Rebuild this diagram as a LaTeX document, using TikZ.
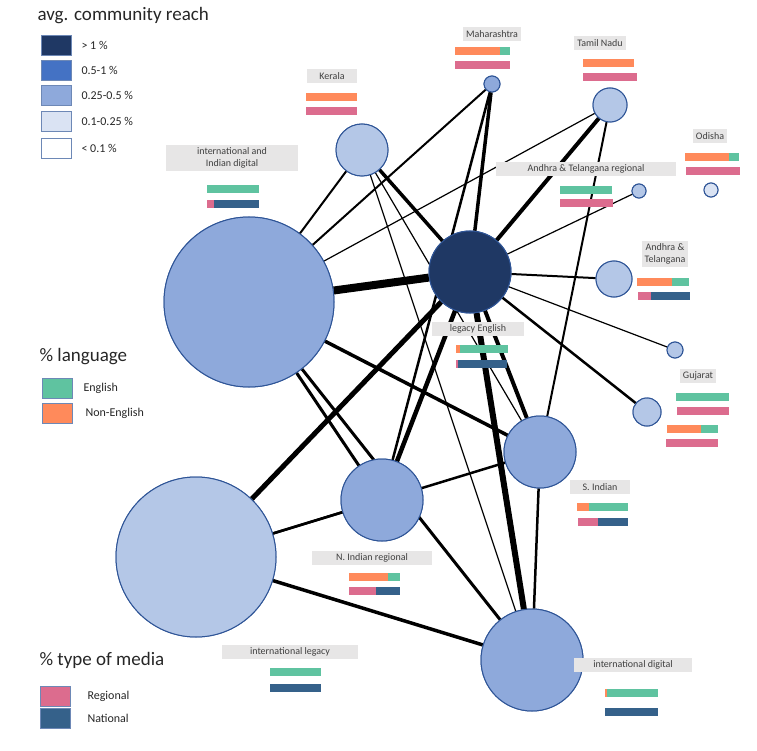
\documentclass[tikz,border=0pt]{standalone}
\usepackage{fontspec}
\setmainfont{Carlito}
\definecolor{c1}{HTML}{1F3864}
\definecolor{c2}{HTML}{4472C4}
\definecolor{c3}{HTML}{8EA9DB}
\definecolor{c4}{HTML}{B4C7E7}
\definecolor{c5}{HTML}{DAE3F3}
\definecolor{edgeb}{HTML}{2F5597}
\definecolor{lbl}{HTML}{E7E6E6}
\definecolor{eng}{HTML}{5FC3A0}
\definecolor{noneng}{HTML}{FF8A5B}
\definecolor{reg}{HTML}{DC6C8E}
\definecolor{nat}{HTML}{35618A}
\newcommand{\bbar}[4]{\fill[#4] (#1,#3-4) rectangle (#2,#3+4);}
\begin{document}
\begin{tikzpicture}[x=1pt,y=-1pt,
  comm/.style={circle,draw=edgeb,line width=1pt,inner sep=0pt},
  lab/.style={fill=lbl,text=black!75,font=\fontsize{10}{12}\selectfont,inner sep=3pt,align=center},
  leg/.style={anchor=west,font=\fontsize{12}{14}\selectfont,text=black!85},
  ttl/.style={anchor=west,font=\fontsize{19}{22}\selectfont,text=black!85},
  sq/.style={draw=edgeb!70,line width=0.8pt}]
\useasboundingbox (0,0) rectangle (757,751);
% nodes
\node[comm,fill=c3,minimum size=170pt] (ii) at (249,302) {};
\node[comm,fill=c4,minimum size=160pt] (il) at (196,557) {};
\node[comm,fill=c3,minimum size=82pt] (ni) at (382,500) {};
\node[comm,fill=c3,minimum size=72pt] (si) at (540,452) {};
\node[comm,fill=c3,minimum size=102pt] (id) at (532,660) {};
\node[comm,fill=c4,minimum size=52pt] (ke) at (362,150) {};
\node[comm,fill=c3,minimum size=16pt] (ma) at (492,84) {};
\node[comm,fill=c4,minimum size=34pt] (tn) at (610,105) {};
\node[comm,fill=c4,minimum size=14pt] (atr) at (639,191) {};
\node[comm,fill=c5,minimum size=14pt] (od) at (711,190) {};
\node[comm,fill=c4,minimum size=36pt] (at) at (614,279) {};
\node[comm,fill=c4,minimum size=16pt] (un) at (675,350) {};
\node[comm,fill=c4,minimum size=28pt] (gu) at (647,412) {};
\node[comm,fill=c1,minimum size=82pt] (hub) at (470,272) {};
% edges
\foreach \a/\b/\w in {hub/ii/8, hub/ma/3.5, hub/tn/4, hub/atr/1.2, hub/at/2, hub/un/1.2, hub/gu/2.5,
  hub/il/5, hub/ni/4.5, hub/id/6, hub/si/4, ii/ke/2, ii/tn/1.2, ii/si/3.5, ii/ni/3, ii/id/3,
  ke/id/1.2, ke/si/1.2, ke/hub/3.5, ma/ii/2, ma/ni/2.5, tn/si/2, il/si/2.5, il/ni/2.5, il/id/3.5,
  si/id/2.5}
  \draw[line width=\w pt,black] (\a) -- (\b);
% redraw nodes on top
\foreach \n/\c/\s/\p in {ii/c3/170/{249,302}, il/c4/160/{196,557}, ni/c3/82/{382,500}, si/c3/72/{540,452},
  id/c3/102/{532,660}, ke/c4/52/{362,150}, ma/c3/16/{492,84}, tn/c4/34/{610,105}, atr/c4/14/{639,191},
  od/c5/14/{711,190}, at/c4/36/{614,279}, un/c4/16/{675,350}, gu/c4/28/{647,412}, hub/c1/82/{470,272}}
  \node[comm,fill=\c,minimum size=\s pt] at (\p) {};
% labels
\node[lab] (lma) at (492,34) {Maharashtra};
\node[lab,minimum width=50pt] (lke) at (332,76) {Kerala};
\node[lab] (ltn) at (600,43) {Tamil Nadu};
\node[lab] (lod) at (710,136) {Odisha};
\node[lab,minimum width=180pt] (latr) at (586,169) {Andhra \& Telangana regional};
\node[lab,minimum width=132pt] (lii) at (232,158) {international and\\Indian digital};
\node[lab] (lat) at (665,254) {Andhra \&\\Telangana};
\node[lab,minimum width=92pt] (lle) at (478,329) {legacy English};
\node[lab] (lgu) at (698,376) {Gujarat};
\node[lab,minimum width=60pt] (lsi) at (600,487) {S. Indian};
\node[lab,minimum width=120pt] (lni) at (372,558) {N. Indian regional};
\node[lab,minimum width=136pt] (lil) at (290,652) {international legacy};
\node[lab,minimum width=118pt] (lid) at (633,665) {international digital};
% bars
\bbar{455}{500}{51}{noneng}\bbar{500}{510}{51}{eng}\bbar{455}{510}{65}{reg}
\bbar{306}{357}{97}{noneng}\bbar{306}{357}{111}{reg}
\bbar{583}{634}{63}{noneng}\bbar{583}{637}{77}{reg}
\bbar{685}{729}{157}{noneng}\bbar{729}{739}{157}{eng}\bbar{686}{740}{171}{reg}
\bbar{560}{612}{190}{eng}\bbar{560}{613}{203}{reg}
\bbar{207}{259}{189}{eng}\bbar{207}{214}{204}{reg}\bbar{214}{259}{204}{nat}
\bbar{637}{672}{282}{noneng}\bbar{672}{689}{282}{eng}\bbar{638}{651}{296}{reg}\bbar{651}{690}{296}{nat}
\bbar{456}{460}{349}{noneng}\bbar{460}{508}{349}{eng}\bbar{456}{458}{364}{reg}\bbar{458}{507}{364}{nat}
\bbar{676}{729}{397}{eng}\bbar{677}{729}{411}{reg}
\bbar{667}{701}{429}{noneng}\bbar{701}{718}{429}{eng}\bbar{666}{718}{443}{reg}
\bbar{577}{589}{507}{noneng}\bbar{589}{628}{507}{eng}\bbar{578}{598}{522}{reg}\bbar{598}{628}{522}{nat}
\bbar{349}{388}{577}{noneng}\bbar{388}{400}{577}{eng}\bbar{349}{376}{591}{reg}\bbar{376}{400}{591}{nat}
\bbar{270}{321}{672}{eng}\bbar{270}{321}{688}{nat}
\bbar{605}{607}{693}{noneng}\bbar{607}{658}{693}{eng}\bbar{605}{658}{712}{nat}
% legends
\node[ttl] (t1) at (34,16) {avg. community reach};
\foreach \y/\c/\t in {45/c1/{> 1 \%}, 70/c2/{0.5-1 \%}, 95/c3/{0.25-0.5 \%}, 121/c5/{0.1-0.25 \%}, 148/white/{< 0.1 \%}}{
  \draw[sq,fill=\c] (41,\y-10) rectangle (71,\y+10);
  \node[leg] at (78,\y) {\t};}
\node[ttl] (t2) at (36,357) {\% language};
\draw[sq,fill=eng] (42,378) rectangle (72,398); \node[leg] at (80,388) {English};
\draw[sq,fill=noneng] (42,403) rectangle (72,423); \node[leg] at (82,413) {Non-English};
\node[ttl] (t3) at (36,660) {\% type of media};
\draw[sq,fill=reg] (40,686) rectangle (70,706); \node[leg] at (84,696) {Regional};
\draw[sq,fill=nat] (40,708) rectangle (70,728); \node[leg] at (84,718) {National};
\end{tikzpicture}
\end{document}
